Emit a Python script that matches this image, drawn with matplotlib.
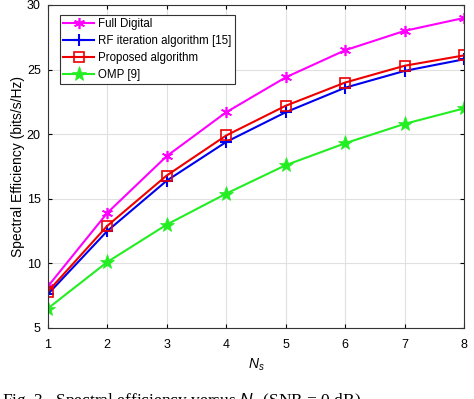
import numpy as np
import matplotlib
matplotlib.use('Agg')
import matplotlib.pyplot as plt

plt.rcParams['font.family'] = ['Liberation Sans', 'DejaVu Sans']
plt.rcParams['mathtext.fontset'] = 'custom'
plt.rcParams['mathtext.it'] = 'Liberation Sans:italic'
plt.rcParams['mathtext.rm'] = 'Liberation Sans'

ns = [1, 2, 3, 4, 5, 6, 7, 8]
full_digital = [8.2, 13.9, 18.3, 21.7, 24.4, 26.5, 28.0, 29.0]
rf_iter = [7.6, 12.5, 16.4, 19.4, 21.7, 23.6, 24.9, 25.8]
proposed = [7.8, 12.9, 16.8, 19.9, 22.2, 24.0, 25.3, 26.1]
omp = [6.5, 10.1, 13.0, 15.4, 17.6, 19.3, 20.8, 22.0]

fig = plt.figure(figsize=(4.74, 3.99), dpi=100)
ax = fig.add_axes([0.1006, 0.178, 0.8788, 0.8095])

ax.plot(ns, full_digital, '-', color='#ff00ff', marker=(6, 2, 0), markersize=8,
        markeredgewidth=1.2, linewidth=1.5, label='Full Digital')
ax.plot(ns, rf_iter, '-', color='#0000ee', marker='+', markersize=8,
        markeredgewidth=1.5, linewidth=1.5, label='RF iteration algorithm [15]')
ax.plot(ns, proposed, '-', color='#ee0000', marker='s', markersize=7,
        markerfacecolor='none', markeredgewidth=1.2, linewidth=1.5, label='Proposed algorithm')
ax.plot(ns, omp, '-', color='#22ee22', marker='*', markersize=11,
        markeredgewidth=0.5, linewidth=1.5, label='OMP [9]')

ax.set_xlim(1, 8)
ax.set_ylim(5, 30)
ax.set_xticks(ns)
ax.set_yticks([5, 10, 15, 20, 25, 30])
ax.tick_params(direction='in', labelsize=9, length=3, pad=5, top=True, right=True,
               labeltop=False, labelright=False)
ax.tick_params(axis='x', pad=8)
ax.grid(True, color='#e0e0e0', linewidth=0.8)
for s in ax.spines.values():
    s.set_linewidth(0.8)
    s.set_color('#333333')

ax.set_ylabel('Spectral Efficiency (bits/s/Hz)', fontsize=10, labelpad=1)
ax.set_xlabel(r'$N_s$', fontsize=10, labelpad=4)

leg = ax.legend(loc='upper left', fontsize=8.3, bbox_to_anchor=(0.029, 0.969),
                fancybox=False, edgecolor='#333333', framealpha=1,
                handlelength=2.7, borderpad=0.3, labelspacing=0.42,
                handletextpad=0.3, borderaxespad=0)
leg.get_frame().set_linewidth(0.8)

fig.text(0.005, -0.014, 'Fig. 3.  Spectral efficiency versus $N_s$ (SNR = 0 dB)',
         fontsize=12.5, family='Liberation Serif', va='baseline', ha='left')

fig.savefig('out.png', dpi=100)
